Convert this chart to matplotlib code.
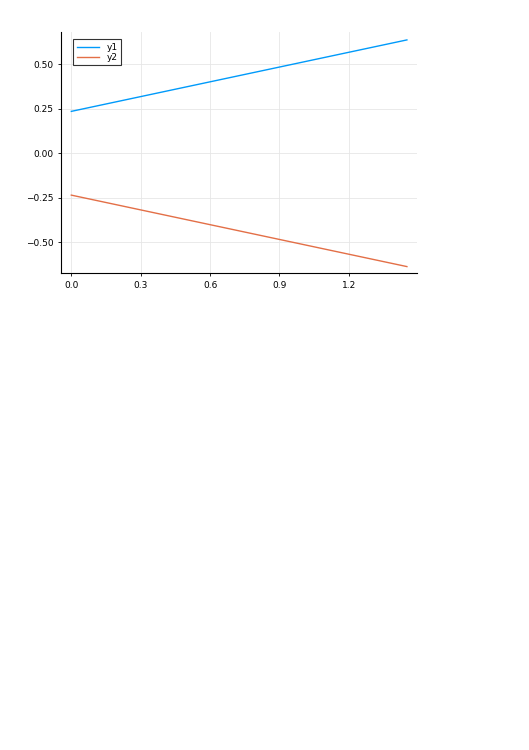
import matplotlib
matplotlib.use("Agg")
import matplotlib.pyplot as plt

x = [0.0, 1.451]
y1 = [0.235, 0.636]
y2 = [-0.235, -0.636]
xticks = [0.0, 0.3, 0.6, 0.9, 1.2]
yticks = [-0.5, -0.25, 0.0, 0.25, 0.5]

fig = plt.figure(figsize=(5.29, 7.5), dpi=100)
ax = fig.add_axes([0.116, 0.636, 0.672, 0.321])
ax.plot(x, y1, color="#009AFA", lw=1, label="y1")
ax.plot(x, y2, color="#E36F47", lw=1, label="y2")
ax.set_xlim(-0.043, 1.494)
ax.set_ylim(-0.672, 0.679)
ax.set_xticks(xticks)
ax.set_xticklabels([f"{v:.1f}" for v in xticks])
ax.set_yticks(yticks)
ax.set_yticklabels([f"{v:.2f}".replace("-", "\u2212") for v in yticks])
ax.grid(True, color="#e6e6e6", lw=0.6)
for s in ["top", "right"]:
    ax.spines[s].set_visible(False)
ax.tick_params(labelsize=6.5, length=2, width=0.6)
leg = ax.legend(loc="upper left", fontsize=6.5, fancybox=False, edgecolor="black",
                borderpad=0.4, handlelength=2.5, labelspacing=0.1, bbox_to_anchor=(0.02, 0.99))
leg.get_frame().set_linewidth(0.8)
fig.savefig("out.png", dpi=100)
